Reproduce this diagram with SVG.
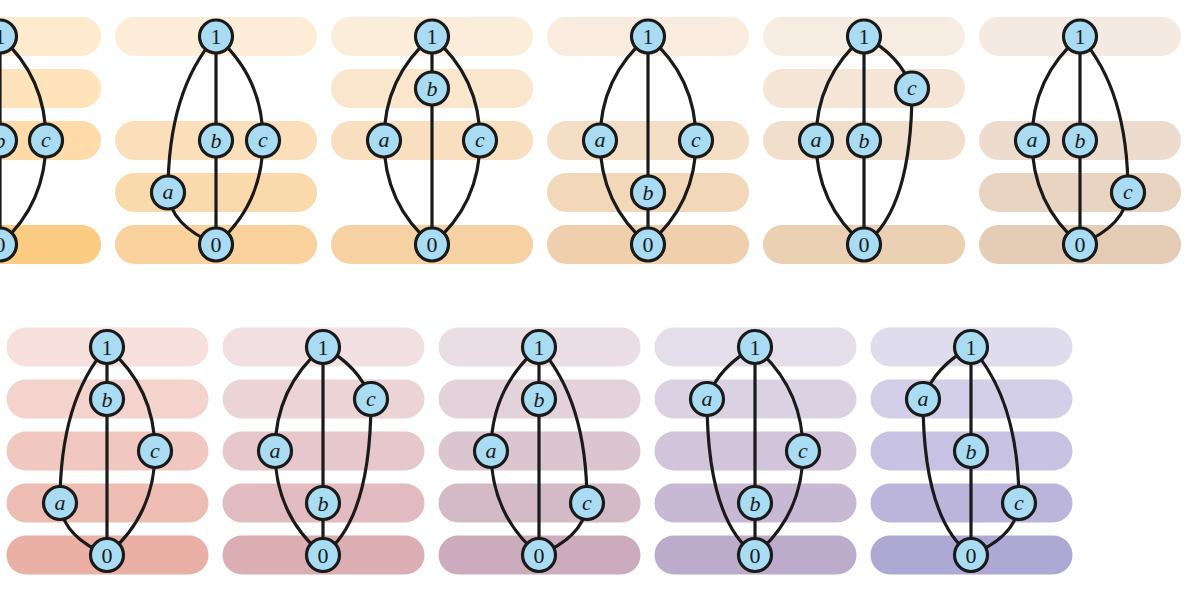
<svg xmlns="http://www.w3.org/2000/svg" width="1200" height="600" viewBox="0 0 1200 600">
<style>
.e{fill:none;stroke:#1a1a1a;stroke-width:3.2}
.n circle{fill:#a9dcf3;stroke:#1a1a1a;stroke-width:3.2}
.n text{font-family:"Liberation Serif",serif;font-size:22px;text-anchor:middle;fill:#1a1a1a}
.n text.v{font-style:italic}
.r0{opacity:.38}.r1{opacity:.52}.r2{opacity:.66}.r3{opacity:.8}.r4{opacity:.95}
</style>
<defs>
<rect id="b0" class="r0" x="-101" y="-19.5" width="202" height="39" rx="19.5"/>
<rect id="b1" class="r1" x="-101" y="32.5" width="202" height="39" rx="19.5"/>
<rect id="b2" class="r2" x="-101" y="84.5" width="202" height="39" rx="19.5"/>
<rect id="b3" class="r3" x="-101" y="136.5" width="202" height="39" rx="19.5"/>
<rect id="b4" class="r4" x="-101" y="188.5" width="202" height="39" rx="19.5"/>
<g id="bandsA"><use href="#b0"/><use href="#b1"/><use href="#b2"/><use href="#b4"/></g>
<g id="bandsB"><use href="#b0"/><use href="#b2"/><use href="#b3"/><use href="#b4"/></g>
<g id="bands"><use href="#b0"/><use href="#b1"/><use href="#b2"/><use href="#b3"/><use href="#b4"/></g>
</defs>
<g id="bands-all">
<use href="#bandsA" x="0" y="36.5" fill="#fdc97c"/>
<use href="#bandsB" x="216" y="36.5" fill="#f9cf98"/>
<use href="#bandsA" x="432" y="36.5" fill="#f5cf9f"/>
<use href="#bandsB" x="648" y="36.5" fill="#efcea8"/>
<use href="#bandsA" x="864" y="36.5" fill="#eacdb0"/>
<use href="#bandsB" x="1080" y="36.5" fill="#e4c9b3"/>
<use href="#bands" x="107.5" y="347" fill="#e9aba0"/>
<use href="#bands" x="323.5" y="347" fill="#d9aab0"/>
<use href="#bands" x="539.5" y="347" fill="#c9a8b8"/>
<use href="#bands" x="755.5" y="347" fill="#b9a6c8"/>
<use href="#bands" x="971.5" y="347" fill="#aaa3d3"/>
</g>
<g id="connectors">
<path class="e" d="M0 36.5 Q-36 55 -46 88.5 Q-46 210 0 244.5"/>
<path class="e" d="M0 36.5 L0 244.5"/>
<path class="e" d="M0 36.5 Q46 77 46 140.5 Q46 204 0 244.5"/>
<path class="e" d="M216 36.5 Q168 90 168 192.5 Q170 225 216 244.5"/>
<path class="e" d="M216 36.5 L216 244.5"/>
<path class="e" d="M216 36.5 Q263 77 263 140.5 Q263 204 216 244.5"/>
<path class="e" d="M432 36.5 Q384 77 384 140.5 Q384 204 432 244.5"/>
<path class="e" d="M432 36.5 L432 244.5"/>
<path class="e" d="M432 36.5 Q480 77 480 140.5 Q480 204 432 244.5"/>
<path class="e" d="M648 36.5 Q600 77 600 140.5 Q600 204 648 244.5"/>
<path class="e" d="M648 36.5 L648 244.5"/>
<path class="e" d="M648 36.5 Q696 77 696 140.5 Q696 204 648 244.5"/>
<path class="e" d="M864 36.5 Q816 77 816 140.5 Q816 204 864 244.5"/>
<path class="e" d="M864 36.5 L864 244.5"/>
<path class="e" d="M864 36.5 Q900 55 912 88.5 Q912 210 864 244.5"/>
<path class="e" d="M1080 36.5 Q1032 77 1032 140.5 Q1032 204 1080 244.5"/>
<path class="e" d="M1080 36.5 L1080 244.5"/>
<path class="e" d="M1080 36.5 Q1128 90 1128 192.5 Q1126 225 1080 244.5"/>
<path class="e" d="M107 347 Q60 400 60 503 Q62 536 107 555"/>
<path class="e" d="M107 347 L107 555"/>
<path class="e" d="M107 347 Q155 388 155 451 Q155 515 107 555"/>
<path class="e" d="M323 347 Q275 388 275 451 Q275 515 323 555"/>
<path class="e" d="M323 347 L323 555"/>
<path class="e" d="M323 347 Q359 366 371 399 Q371 520 323 555"/>
<path class="e" d="M539 347 Q491 388 491 451 Q491 515 539 555"/>
<path class="e" d="M539 347 L539 555"/>
<path class="e" d="M539 347 Q587 400 587 503 Q585 536 539 555"/>
<path class="e" d="M755 347 Q719 366 707 399 Q707 520 755 555"/>
<path class="e" d="M755 347 L755 555"/>
<path class="e" d="M755 347 Q803 388 803 451 Q803 515 755 555"/>
<path class="e" d="M971 347 Q935 366 923 399 Q923 520 971 555"/>
<path class="e" d="M971 347 L971 555"/>
<path class="e" d="M971 347 Q1019 400 1019 503 Q1017 536 971 555"/>
</g>
<g id="p1" class="n">
<g><circle cx="0" cy="36.5" r="16.5"/><text x="0" y="44">1</text></g>
<g><circle cx="-46" cy="88.5" r="16.5"/><text class="v" x="-46" y="95">a</text></g>
<g><circle cx="0" cy="140.5" r="16.5"/><text class="v" x="0" y="148">b</text></g>
<g><circle cx="46" cy="140.5" r="16.5"/><text class="v" x="46" y="147">c</text></g>
<g><circle cx="0" cy="244.5" r="16.5"/><text x="0" y="252">0</text></g>
</g>
<g id="p2" class="n">
<g><circle cx="216" cy="36.5" r="16.5"/><text x="216" y="44">1</text></g>
<g><circle cx="168" cy="192.5" r="16.5"/><text class="v" x="168" y="199">a</text></g>
<g><circle cx="216" cy="140.5" r="16.5"/><text class="v" x="216" y="148">b</text></g>
<g><circle cx="263" cy="140.5" r="16.5"/><text class="v" x="263" y="147">c</text></g>
<g><circle cx="216" cy="244.5" r="16.5"/><text x="216" y="252">0</text></g>
</g>
<g id="p3" class="n">
<g><circle cx="432" cy="36.5" r="16.5"/><text x="432" y="44">1</text></g>
<g><circle cx="384" cy="140.5" r="16.5"/><text class="v" x="384" y="147">a</text></g>
<g><circle cx="432" cy="88.5" r="16.5"/><text class="v" x="432" y="96">b</text></g>
<g><circle cx="480" cy="140.5" r="16.5"/><text class="v" x="480" y="147">c</text></g>
<g><circle cx="432" cy="244.5" r="16.5"/><text x="432" y="252">0</text></g>
</g>
<g id="p4" class="n">
<g><circle cx="648" cy="36.5" r="16.5"/><text x="648" y="44">1</text></g>
<g><circle cx="600" cy="140.5" r="16.5"/><text class="v" x="600" y="147">a</text></g>
<g><circle cx="648" cy="192.5" r="16.5"/><text class="v" x="648" y="200">b</text></g>
<g><circle cx="696" cy="140.5" r="16.5"/><text class="v" x="696" y="147">c</text></g>
<g><circle cx="648" cy="244.5" r="16.5"/><text x="648" y="252">0</text></g>
</g>
<g id="p5" class="n">
<g><circle cx="864" cy="36.5" r="16.5"/><text x="864" y="44">1</text></g>
<g><circle cx="816" cy="140.5" r="16.5"/><text class="v" x="816" y="147">a</text></g>
<g><circle cx="864" cy="140.5" r="16.5"/><text class="v" x="864" y="148">b</text></g>
<g><circle cx="912" cy="88.5" r="16.5"/><text class="v" x="912" y="95">c</text></g>
<g><circle cx="864" cy="244.5" r="16.5"/><text x="864" y="252">0</text></g>
</g>
<g id="p6" class="n">
<g><circle cx="1080" cy="36.5" r="16.5"/><text x="1080" y="44">1</text></g>
<g><circle cx="1032" cy="140.5" r="16.5"/><text class="v" x="1032" y="147">a</text></g>
<g><circle cx="1080" cy="140.5" r="16.5"/><text class="v" x="1080" y="148">b</text></g>
<g><circle cx="1128" cy="192.5" r="16.5"/><text class="v" x="1128" y="199">c</text></g>
<g><circle cx="1080" cy="244.5" r="16.5"/><text x="1080" y="252">0</text></g>
</g>
<g id="q1" class="n">
<g><circle cx="107" cy="347" r="16.5"/><text x="107" y="354.5">1</text></g>
<g><circle cx="60" cy="503" r="16.5"/><text class="v" x="60" y="509.5">a</text></g>
<g><circle cx="107" cy="399" r="16.5"/><text class="v" x="107" y="406.5">b</text></g>
<g><circle cx="155" cy="451" r="16.5"/><text class="v" x="155" y="457.5">c</text></g>
<g><circle cx="107" cy="555" r="16.5"/><text x="107" y="562.5">0</text></g>
</g>
<g id="q2" class="n">
<g><circle cx="323" cy="347" r="16.5"/><text x="323" y="354.5">1</text></g>
<g><circle cx="275" cy="451" r="16.5"/><text class="v" x="275" y="457.5">a</text></g>
<g><circle cx="323" cy="503" r="16.5"/><text class="v" x="323" y="510.5">b</text></g>
<g><circle cx="371" cy="399" r="16.5"/><text class="v" x="371" y="405.5">c</text></g>
<g><circle cx="323" cy="555" r="16.5"/><text x="323" y="562.5">0</text></g>
</g>
<g id="q3" class="n">
<g><circle cx="539" cy="347" r="16.5"/><text x="539" y="354.5">1</text></g>
<g><circle cx="491" cy="451" r="16.5"/><text class="v" x="491" y="457.5">a</text></g>
<g><circle cx="539" cy="399" r="16.5"/><text class="v" x="539" y="406.5">b</text></g>
<g><circle cx="587" cy="503" r="16.5"/><text class="v" x="587" y="509.5">c</text></g>
<g><circle cx="539" cy="555" r="16.5"/><text x="539" y="562.5">0</text></g>
</g>
<g id="q4" class="n">
<g><circle cx="755" cy="347" r="16.5"/><text x="755" y="354.5">1</text></g>
<g><circle cx="707" cy="399" r="16.5"/><text class="v" x="707" y="405.5">a</text></g>
<g><circle cx="755" cy="503" r="16.5"/><text class="v" x="755" y="510.5">b</text></g>
<g><circle cx="803" cy="451" r="16.5"/><text class="v" x="803" y="457.5">c</text></g>
<g><circle cx="755" cy="555" r="16.5"/><text x="755" y="562.5">0</text></g>
</g>
<g id="q5" class="n">
<g><circle cx="971" cy="347" r="16.5"/><text x="971" y="354.5">1</text></g>
<g><circle cx="923" cy="399" r="16.5"/><text class="v" x="923" y="405.5">a</text></g>
<g><circle cx="971" cy="451" r="16.5"/><text class="v" x="971" y="458.5">b</text></g>
<g><circle cx="1019" cy="503" r="16.5"/><text class="v" x="1019" y="509.5">c</text></g>
<g><circle cx="971" cy="555" r="16.5"/><text x="971" y="562.5">0</text></g>
</g>
</svg>
